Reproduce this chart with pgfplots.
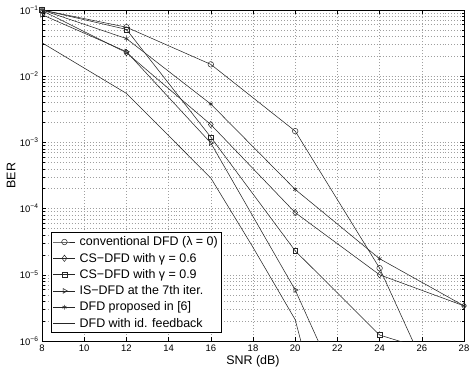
\documentclass[border=0pt]{standalone}
\usepackage{fontspec}
\setmainfont{Liberation Sans}
\usepackage{pgfplots}
\pgfplotsset{compat=1.18}
\begin{document}
\begin{tikzpicture}
\useasboundingbox (-42bp,-34bp) rectangle (432bp,341bp);
\begin{axis}[
  at={(0,0)}, anchor=south west,
  scale only axis, width=422bp, height=331bp,
  xmin=8, xmax=28, ymin=1e-6, ymax=1e-1, ymode=log,
  xtick={8,10,...,28},
  ytick={1e-6,1e-5,1e-4,1e-3,1e-2,1e-1},
  yticklabels={10\textsuperscript{−6},10\textsuperscript{−5},10\textsuperscript{−4},10\textsuperscript{−3},10\textsuperscript{−2},10\textsuperscript{−1}},
  /pgf/number format/assume math mode=true,
  tick align=inside,
  major tick length=4bp, minor tick length=2.5bp,
  grid=both,
  major grid style={dash pattern=on 1pt off 2pt, gray!75, line width=0.4pt},
  minor grid style={dash pattern=on 1pt off 2pt, gray!75, line width=0.4pt},
  axis line style={line width=0.6pt},
  tick style={line width=0.4pt, black},
  tick label style={font=\fontsize{9.5}{10}\selectfont},
  xlabel={SNR (dB)}, ylabel={BER},
  every axis x label/.style={at={(axis description cs:0.5,-0.034)}, anchor=north, font=\fontsize{12.5}{14}\selectfont},
  every axis y label/.style={at={(axis description cs:-0.0545,0.5)}, anchor=south, rotate=90, font=\fontsize{12.5}{14}\selectfont},
  legend style={at={(0.021,0.024)}, anchor=south west, draw=black, line width=0.6pt,
    font=\fontsize{12.5}{14}\selectfont, inner sep=2bp, row sep=1.8bp, column sep=2bp, cells={anchor=west}},
  legend image code/.code={\draw[mark repeat=2,mark phase=2,#1] plot coordinates {(0bp,0bp) (11bp,0bp) (22bp,0bp)};},
  every axis plot/.append style={black!85, line width=0.55pt, mark options={solid, fill=white, line width=0.5pt}},
]
\addplot[mark=o, mark size=2.8bp] coordinates {(8,0.1) (12,0.055) (16,0.0151) (20,1.48e-3) (24,1.26e-5) (28,2e-8)};
\addlegendentry{conventional DFD (λ = 0)}
\addplot[mark=diamond, mark size=3.2bp] coordinates {(8,0.098) (12,0.0227) (16,1.86e-3) (20,8.7e-5) (24,1.0e-5) (28,3.4e-6)};
\addlegendentry{CS−DFD with γ = 0.6}
\addplot[mark=square, mark size=2.4bp] coordinates {(8,0.1) (12,0.051) (16,1.2e-3) (20,2.3e-5) (24,1.23e-6) (28,5e-7)};
\addlegendentry{CS−DFD with γ = 0.9}
\addplot[mark=triangle, mark size=2.8bp, mark options={rotate=-90}] coordinates {(8,0.085) (12,0.0235) (16,9.8e-4) (20,5.9e-6) (24,8.7e-9)};
\addlegendentry{IS−DFD at the 7th iter.}
\addplot[mark=asterisk, mark size=2.3bp] coordinates {(8,0.1) (12,0.037) (16,3.8e-3) (20,1.95e-4) (24,1.75e-5) (28,3.4e-6)};
\addlegendentry{DFD proposed in [6]}
\addplot[no marks] coordinates {(8,0.032) (12,5.5e-3) (16,2.9e-4) (18,2.6e-5) (20,2.1e-6) (21,1.3e-7)};
\addlegendentry{DFD with id. feedback}
\end{axis}
\end{tikzpicture}
\end{document}
